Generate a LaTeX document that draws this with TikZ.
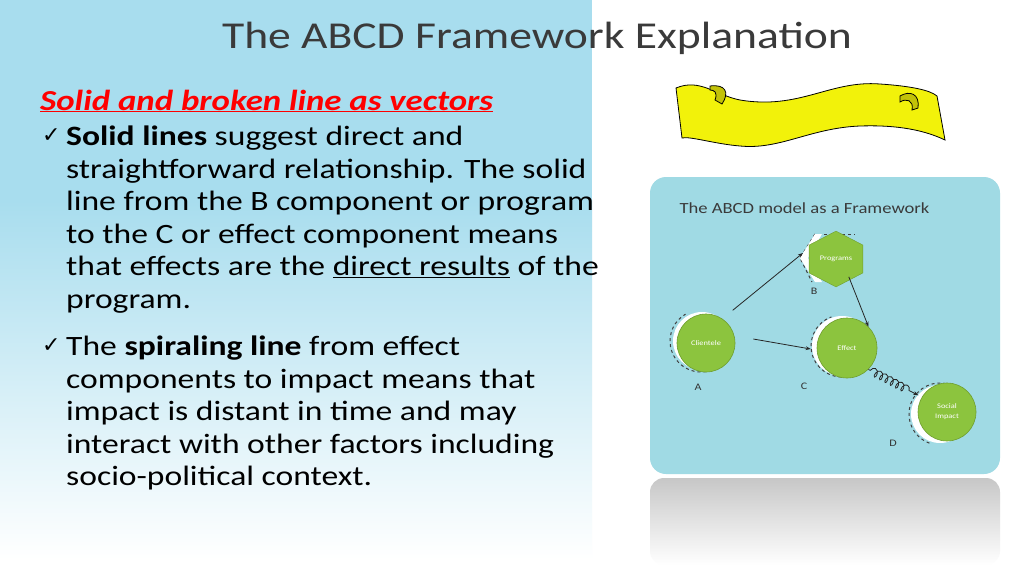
\documentclass[tikz,border=0pt]{standalone}
\usepackage{fontspec}
\setmainfont{Carlito}[FakeStretch=1.2]
\newfontfamily\symf{DejaVu Sans}
\usetikzlibrary{shapes.geometric,decorations.pathmorphing,arrows.meta}
\definecolor{bgblue}{HTML}{A8DDEE}
\definecolor{panel}{HTML}{A0DAE4}
\definecolor{leaf}{HTML}{8CC43E}
\definecolor{leafd}{HTML}{6E9E2E}
\definecolor{ttl}{HTML}{3A3A3A}
\definecolor{scroll}{HTML}{F2F20A}
\tikzset{
  body/.style={anchor=north west,align=left,font=\fontsize{28}{32.5}\selectfont,text=black,inner sep=0pt},
  ball/.style={circle,fill=leaf,draw=leafd,line width=0.6pt,minimum size=#1,inner sep=0pt,text=white,font=\fontsize{7}{8}\selectfont,align=center},
  lab/.style={font=\fontsize{10}{10}\selectfont,text=black!80},
  dashout/.style={draw=black!75,dashed,line width=1pt},
  link/.style={-{Stealth[length=5pt]},line width=0.8pt,black!85}
}
\begin{document}
\begin{tikzpicture}[x=1pt,y=-1pt]
\useasboundingbox (0,0) rectangle (1024,576);
\fill[white] (0,0) rectangle (1024,576);
\fill[bgblue] (0,0) rectangle (592,200);
\shade[top color=bgblue,bottom color=white] (0,200) rectangle (592,560);
\node[font=\fontsize{38}{42}\selectfont,text=ttl] (title) at (537,38) {The ABCD Framework Explanation};
\node[anchor=west,font=\fontsize{29}{32}\selectfont\bfseries\itshape,text=red,inner sep=0pt] (head) at (40,101) {\underline{Solid and broken line as vectors}};
\node[anchor=north west,inner sep=0pt,font=\symf\fontsize{22}{22}\selectfont] (ck1) at (42,128) {✓};
\node[body] (p1) at (66,126) {\textbf{Solid lines} suggest direct and\\straightforward relationship. The solid\\line from the B component or program\\to the C or effect component means\\that effects are the \underline{direct results} of the\\program.};
\node[anchor=north west,inner sep=0pt,font=\symf\fontsize{22}{22}\selectfont] (ck2) at (42,338) {✓};
\node[body] (p2) at (66,336) {The \textbf{spiraling line} from effect\\components to impact means that\\impact is distant in time and may\\interact with other factors including\\socio-political context.};
% scroll
\draw[fill=scroll,line width=0.8pt] (676,88) .. controls (700,78) and (715,95) .. (740,100) .. controls (800,110) and (830,80) .. (880,84) .. controls (910,86) and (930,90) .. (937,96) -- (945,140) .. controls (920,128) and (890,125) .. (860,126) .. controls (810,128) and (780,150) .. (740,146) .. controls (715,144) and (690,136) .. (682,138) -- cycle;
\draw[fill=scroll!80!black,line width=0.8pt] (710,86) .. controls (725,84) and (730,92) .. (722,104) -- (715,100) .. controls (718,92) and (714,90) .. (710,90) -- cycle;
\draw[fill=scroll!80!black,line width=0.8pt] (900,96) .. controls (910,90) and (920,94) .. (918,108) -- (912,110) .. controls (914,100) and (906,98) .. (900,102) -- cycle;
% reflection
\shade[top color=black!22,bottom color=white,rounded corners=14pt] (650,478) rectangle (1000,565);
% panel
\fill[panel,rounded corners=16pt] (650,177) rectangle (1000,474);
\node[anchor=west,font=\fontsize{15.5}{17}\selectfont,text=ttl] (ptitle) at (676,208) {The ABCD model as a Framework};
% dashed outlines
\draw[dashout] (818,234) -- (855,234);
\draw[dashout] (815,234) -- (800,258) -- (812,282);
\draw[dashout] (701,341) ++(80:31) arc (80:240:31);
\draw[dashout] (842,346) ++(80:31) arc (80:250:31);
\draw[dashout] (940,414) ++(110:31) arc (110:290:31);
\fill[white] (800,258) -- (815,234) -- (822,234) -- (808,258) -- (822,282) -- (815,282) -- cycle;
\fill[white] (702,341) circle (29);
\fill[white] (842,346) circle (30);
\fill[white] (940,414) circle (29);
\node[draw=leafd,fill=leaf,regular polygon,regular polygon sides=6,regular polygon rotate=30,minimum size=62,inner sep=0pt,yscale=0.9] (prog) at (836,259) {};
\node[text=white,font=\fontsize{7}{8}\selectfont] (progt) at (836,259) {Programs};
\node[ball=58] (cli) at (706,343) {Clientele};
\node[ball=60] (eff) at (847,348) {Effect};
\node[ball=58] (soc) at (947,412) {Social\\[2pt]Impact};
\node[lab] (la) at (698,387) {A};
\node[lab] (lb) at (814,291) {B};
\node[lab] (lc) at (804,386) {C};
\node[lab] (ld) at (893,443) {D};
\draw[link] ([shift={(6,-12)}]cli.north east) -- ([xshift=-6pt,yshift=6pt]prog.west);
\draw[link] ([xshift=18pt,yshift=4pt]cli.east) -- ([xshift=-6pt,yshift=-1pt]eff.west);
\draw[link] ([xshift=-7pt]prog.south east) -- (eff.north east);
\draw[-{Stealth[length=5pt]},line width=0.8pt,black!85,decorate,decoration={coil,aspect=0.6,amplitude=4pt,segment length=6pt,pre length=2pt,post length=8pt}] (eff.south east) -- ([xshift=-8pt,yshift=-4pt]soc.north west);
\end{tikzpicture}
\end{document}
